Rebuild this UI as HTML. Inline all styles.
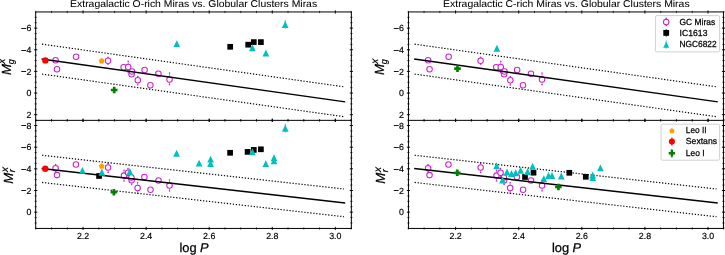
<!DOCTYPE html><html><head><meta charset="utf-8"><style>html,body{margin:0;padding:0;background:#fff;overflow:hidden}svg{display:block;will-change:transform}</style></head><body><svg width="725" height="255" viewBox="0 0 725 255">
<style>text{font-family:"Liberation Sans",sans-serif;fill:#000;stroke:#000;stroke-width:0.25px;text-rendering:geometricPrecision}.tk{font-size:8.8px;stroke-width:0.18px}.lg{font-size:8.8px}.tt{font-size:9.9px;stroke-width:0.05px}</style>
<rect width="725" height="255" fill="#fff"/>
<text x="70.1" y="6.85" class="tt" textLength="247.0" lengthAdjust="spacingAndGlyphs">Extragalactic O-rich Miras vs. Globular Clusters Miras</text>
<text x="443.1" y="6.85" class="tt" textLength="246.5" lengthAdjust="spacingAndGlyphs">Extragalactic C-rich Miras vs. Globular Clusters Miras</text>
<circle cx="55.60" cy="60.30" r="2.75" fill="#fff" stroke="#cc22d0" stroke-width="1.05"/>
<circle cx="428.14" cy="60.30" r="2.75" fill="#fff" stroke="#cc22d0" stroke-width="1.05"/>
<circle cx="57.00" cy="69.20" r="2.75" fill="#fff" stroke="#cc22d0" stroke-width="1.05"/>
<circle cx="429.54" cy="69.20" r="2.75" fill="#fff" stroke="#cc22d0" stroke-width="1.05"/>
<circle cx="76.10" cy="56.80" r="2.75" fill="#fff" stroke="#cc22d0" stroke-width="1.05"/>
<circle cx="448.64" cy="56.80" r="2.75" fill="#fff" stroke="#cc22d0" stroke-width="1.05"/>
<line x1="108.06" y1="57.30" x2="108.06" y2="64.20" stroke="#cc22d0" stroke-width="0.65"/><circle cx="108.06" cy="57.30" r="0.75" fill="#cc22d0"/><circle cx="108.06" cy="64.20" r="0.75" fill="#cc22d0"/><circle cx="108.06" cy="60.65" r="2.75" fill="#fff" stroke="#cc22d0" stroke-width="1.05"/>
<line x1="480.60" y1="57.30" x2="480.60" y2="64.20" stroke="#cc22d0" stroke-width="0.65"/><circle cx="480.60" cy="57.30" r="0.75" fill="#cc22d0"/><circle cx="480.60" cy="64.20" r="0.75" fill="#cc22d0"/><circle cx="480.60" cy="60.65" r="2.75" fill="#fff" stroke="#cc22d0" stroke-width="1.05"/>
<circle cx="123.65" cy="67.25" r="2.75" fill="#fff" stroke="#cc22d0" stroke-width="1.05"/>
<circle cx="496.19" cy="67.25" r="2.75" fill="#fff" stroke="#cc22d0" stroke-width="1.05"/>
<line x1="128.20" y1="61.30" x2="128.20" y2="72.70" stroke="#cc22d0" stroke-width="0.65"/><circle cx="128.20" cy="61.30" r="0.75" fill="#cc22d0"/><circle cx="128.20" cy="72.70" r="0.75" fill="#cc22d0"/><circle cx="128.20" cy="67.00" r="2.75" fill="#fff" stroke="#cc22d0" stroke-width="1.05"/>
<line x1="500.74" y1="61.30" x2="500.74" y2="72.70" stroke="#cc22d0" stroke-width="0.65"/><circle cx="500.74" cy="61.30" r="0.75" fill="#cc22d0"/><circle cx="500.74" cy="72.70" r="0.75" fill="#cc22d0"/><circle cx="500.74" cy="67.00" r="2.75" fill="#fff" stroke="#cc22d0" stroke-width="1.05"/>
<circle cx="131.60" cy="74.20" r="2.75" fill="#fff" stroke="#cc22d0" stroke-width="1.05"/>
<circle cx="504.14" cy="74.20" r="2.75" fill="#fff" stroke="#cc22d0" stroke-width="1.05"/>
<circle cx="132.00" cy="71.40" r="2.75" fill="#fff" stroke="#cc22d0" stroke-width="1.05"/>
<circle cx="504.54" cy="71.40" r="2.75" fill="#fff" stroke="#cc22d0" stroke-width="1.05"/>
<line x1="137.80" y1="76.40" x2="137.80" y2="85.00" stroke="#cc22d0" stroke-width="0.65"/><circle cx="137.80" cy="76.40" r="0.75" fill="#cc22d0"/><circle cx="137.80" cy="85.00" r="0.75" fill="#cc22d0"/><circle cx="137.80" cy="80.30" r="2.75" fill="#fff" stroke="#cc22d0" stroke-width="1.05"/>
<line x1="510.34" y1="76.40" x2="510.34" y2="85.00" stroke="#cc22d0" stroke-width="0.65"/><circle cx="510.34" cy="76.40" r="0.75" fill="#cc22d0"/><circle cx="510.34" cy="85.00" r="0.75" fill="#cc22d0"/><circle cx="510.34" cy="80.30" r="2.75" fill="#fff" stroke="#cc22d0" stroke-width="1.05"/>
<circle cx="144.60" cy="69.90" r="2.75" fill="#fff" stroke="#cc22d0" stroke-width="1.05"/>
<circle cx="517.14" cy="69.90" r="2.75" fill="#fff" stroke="#cc22d0" stroke-width="1.05"/>
<circle cx="150.40" cy="85.20" r="2.75" fill="#fff" stroke="#cc22d0" stroke-width="1.05"/>
<circle cx="522.94" cy="85.20" r="2.75" fill="#fff" stroke="#cc22d0" stroke-width="1.05"/>
<circle cx="158.40" cy="73.80" r="2.75" fill="#fff" stroke="#cc22d0" stroke-width="1.05"/>
<circle cx="530.94" cy="73.80" r="2.75" fill="#fff" stroke="#cc22d0" stroke-width="1.05"/>
<line x1="169.50" y1="72.90" x2="169.50" y2="84.80" stroke="#cc22d0" stroke-width="0.65"/><circle cx="169.50" cy="72.90" r="0.75" fill="#cc22d0"/><circle cx="169.50" cy="84.80" r="0.75" fill="#cc22d0"/><circle cx="169.50" cy="79.40" r="2.75" fill="#fff" stroke="#cc22d0" stroke-width="1.05"/>
<line x1="542.04" y1="72.90" x2="542.04" y2="84.80" stroke="#cc22d0" stroke-width="0.65"/><circle cx="542.04" cy="72.90" r="0.75" fill="#cc22d0"/><circle cx="542.04" cy="84.80" r="0.75" fill="#cc22d0"/><circle cx="542.04" cy="79.40" r="2.75" fill="#fff" stroke="#cc22d0" stroke-width="1.05"/>
<line x1="55.60" y1="164.50" x2="55.60" y2="171.90" stroke="#cc22d0" stroke-width="0.65"/><circle cx="55.60" cy="164.50" r="0.75" fill="#cc22d0"/><circle cx="55.60" cy="171.90" r="0.75" fill="#cc22d0"/><circle cx="55.60" cy="168.20" r="2.75" fill="#fff" stroke="#cc22d0" stroke-width="1.05"/>
<line x1="428.14" y1="164.50" x2="428.14" y2="171.90" stroke="#cc22d0" stroke-width="0.65"/><circle cx="428.14" cy="164.50" r="0.75" fill="#cc22d0"/><circle cx="428.14" cy="171.90" r="0.75" fill="#cc22d0"/><circle cx="428.14" cy="168.20" r="2.75" fill="#fff" stroke="#cc22d0" stroke-width="1.05"/>
<circle cx="57.00" cy="175.10" r="2.75" fill="#fff" stroke="#cc22d0" stroke-width="1.05"/>
<circle cx="429.54" cy="175.10" r="2.75" fill="#fff" stroke="#cc22d0" stroke-width="1.05"/>
<circle cx="75.90" cy="164.40" r="2.75" fill="#fff" stroke="#cc22d0" stroke-width="1.05"/>
<circle cx="448.44" cy="164.40" r="2.75" fill="#fff" stroke="#cc22d0" stroke-width="1.05"/>
<line x1="108.10" y1="163.30" x2="108.10" y2="172.60" stroke="#cc22d0" stroke-width="0.65"/><circle cx="108.10" cy="163.30" r="0.75" fill="#cc22d0"/><circle cx="108.10" cy="172.60" r="0.75" fill="#cc22d0"/><circle cx="108.10" cy="167.40" r="2.75" fill="#fff" stroke="#cc22d0" stroke-width="1.05"/>
<line x1="480.64" y1="163.30" x2="480.64" y2="172.60" stroke="#cc22d0" stroke-width="0.65"/><circle cx="480.64" cy="163.30" r="0.75" fill="#cc22d0"/><circle cx="480.64" cy="172.60" r="0.75" fill="#cc22d0"/><circle cx="480.64" cy="167.40" r="2.75" fill="#fff" stroke="#cc22d0" stroke-width="1.05"/>
<line x1="124.00" y1="170.30" x2="124.00" y2="180.90" stroke="#cc22d0" stroke-width="0.65"/><circle cx="124.00" cy="170.30" r="0.75" fill="#cc22d0"/><circle cx="124.00" cy="180.90" r="0.75" fill="#cc22d0"/><circle cx="124.00" cy="175.60" r="2.75" fill="#fff" stroke="#cc22d0" stroke-width="1.05"/>
<line x1="496.54" y1="170.30" x2="496.54" y2="180.90" stroke="#cc22d0" stroke-width="0.65"/><circle cx="496.54" cy="170.30" r="0.75" fill="#cc22d0"/><circle cx="496.54" cy="180.90" r="0.75" fill="#cc22d0"/><circle cx="496.54" cy="175.60" r="2.75" fill="#fff" stroke="#cc22d0" stroke-width="1.05"/>
<line x1="128.00" y1="168.40" x2="128.00" y2="177.20" stroke="#cc22d0" stroke-width="0.65"/><circle cx="128.00" cy="168.40" r="0.75" fill="#cc22d0"/><circle cx="128.00" cy="177.20" r="0.75" fill="#cc22d0"/><circle cx="128.00" cy="172.80" r="2.75" fill="#fff" stroke="#cc22d0" stroke-width="1.05"/>
<line x1="500.54" y1="168.40" x2="500.54" y2="177.20" stroke="#cc22d0" stroke-width="0.65"/><circle cx="500.54" cy="168.40" r="0.75" fill="#cc22d0"/><circle cx="500.54" cy="177.20" r="0.75" fill="#cc22d0"/><circle cx="500.54" cy="172.80" r="2.75" fill="#fff" stroke="#cc22d0" stroke-width="1.05"/>
<line x1="131.60" y1="176.00" x2="131.60" y2="184.40" stroke="#cc22d0" stroke-width="0.65"/><circle cx="131.60" cy="176.00" r="0.75" fill="#cc22d0"/><circle cx="131.60" cy="184.40" r="0.75" fill="#cc22d0"/><circle cx="131.60" cy="180.20" r="2.75" fill="#fff" stroke="#cc22d0" stroke-width="1.05"/>
<line x1="504.14" y1="176.00" x2="504.14" y2="184.40" stroke="#cc22d0" stroke-width="0.65"/><circle cx="504.14" cy="176.00" r="0.75" fill="#cc22d0"/><circle cx="504.14" cy="184.40" r="0.75" fill="#cc22d0"/><circle cx="504.14" cy="180.20" r="2.75" fill="#fff" stroke="#cc22d0" stroke-width="1.05"/>
<circle cx="131.40" cy="177.40" r="2.75" fill="#fff" stroke="#cc22d0" stroke-width="1.05"/>
<circle cx="503.94" cy="177.40" r="2.75" fill="#fff" stroke="#cc22d0" stroke-width="1.05"/>
<line x1="137.60" y1="182.50" x2="137.60" y2="193.40" stroke="#cc22d0" stroke-width="0.65"/><circle cx="137.60" cy="182.50" r="0.75" fill="#cc22d0"/><circle cx="137.60" cy="193.40" r="0.75" fill="#cc22d0"/><circle cx="137.60" cy="188.00" r="2.75" fill="#fff" stroke="#cc22d0" stroke-width="1.05"/>
<line x1="510.14" y1="182.50" x2="510.14" y2="193.40" stroke="#cc22d0" stroke-width="0.65"/><circle cx="510.14" cy="182.50" r="0.75" fill="#cc22d0"/><circle cx="510.14" cy="193.40" r="0.75" fill="#cc22d0"/><circle cx="510.14" cy="188.00" r="2.75" fill="#fff" stroke="#cc22d0" stroke-width="1.05"/>
<circle cx="144.40" cy="177.00" r="2.75" fill="#fff" stroke="#cc22d0" stroke-width="1.05"/>
<circle cx="516.94" cy="177.00" r="2.75" fill="#fff" stroke="#cc22d0" stroke-width="1.05"/>
<circle cx="150.50" cy="189.80" r="2.75" fill="#fff" stroke="#cc22d0" stroke-width="1.05"/>
<circle cx="523.04" cy="189.80" r="2.75" fill="#fff" stroke="#cc22d0" stroke-width="1.05"/>
<circle cx="158.50" cy="180.40" r="2.75" fill="#fff" stroke="#cc22d0" stroke-width="1.05"/>
<circle cx="531.04" cy="180.40" r="2.75" fill="#fff" stroke="#cc22d0" stroke-width="1.05"/>
<line x1="169.50" y1="179.90" x2="169.50" y2="191.00" stroke="#cc22d0" stroke-width="0.65"/><circle cx="169.50" cy="179.90" r="0.75" fill="#cc22d0"/><circle cx="169.50" cy="191.00" r="0.75" fill="#cc22d0"/><circle cx="169.50" cy="185.40" r="2.75" fill="#fff" stroke="#cc22d0" stroke-width="1.05"/>
<line x1="542.04" y1="179.90" x2="542.04" y2="191.00" stroke="#cc22d0" stroke-width="0.65"/><circle cx="542.04" cy="179.90" r="0.75" fill="#cc22d0"/><circle cx="542.04" cy="191.00" r="0.75" fill="#cc22d0"/><circle cx="542.04" cy="185.40" r="2.75" fill="#fff" stroke="#cc22d0" stroke-width="1.05"/>
<line x1="41.60" y1="59.00" x2="345.20" y2="101.87" stroke="#000" stroke-width="1.5"/>
<line x1="41.60" y1="44.10" x2="344.00" y2="86.80" stroke="#000" stroke-width="1.15" stroke-dasharray="1.3 1.7" stroke-dashoffset="-0.41"/>
<line x1="41.60" y1="74.00" x2="344.00" y2="116.70" stroke="#000" stroke-width="1.15" stroke-dasharray="1.3 1.7" stroke-dashoffset="-0.41"/>
<line x1="41.60" y1="168.50" x2="345.20" y2="202.98" stroke="#000" stroke-width="1.5"/>
<line x1="41.60" y1="155.20" x2="344.00" y2="189.04" stroke="#000" stroke-width="1.15" stroke-dasharray="1.3 1.7" stroke-dashoffset="-0.41"/>
<line x1="41.60" y1="182.40" x2="344.00" y2="216.74" stroke="#000" stroke-width="1.15" stroke-dasharray="1.3 1.7" stroke-dashoffset="-0.41"/>
<line x1="414.14" y1="59.00" x2="717.74" y2="101.87" stroke="#000" stroke-width="1.5"/>
<line x1="414.14" y1="44.10" x2="716.54" y2="86.80" stroke="#000" stroke-width="1.15" stroke-dasharray="1.3 1.7" stroke-dashoffset="-0.41"/>
<line x1="414.14" y1="74.00" x2="716.54" y2="116.70" stroke="#000" stroke-width="1.15" stroke-dasharray="1.3 1.7" stroke-dashoffset="-0.41"/>
<line x1="414.14" y1="168.50" x2="717.74" y2="202.98" stroke="#000" stroke-width="1.5"/>
<line x1="414.14" y1="155.20" x2="716.54" y2="189.04" stroke="#000" stroke-width="1.15" stroke-dasharray="1.3 1.7" stroke-dashoffset="-0.41"/>
<line x1="414.14" y1="182.40" x2="716.54" y2="216.74" stroke="#000" stroke-width="1.15" stroke-dasharray="1.3 1.7" stroke-dashoffset="-0.41"/>
<circle cx="45.40" cy="60.40" r="3.2" fill="#ff0000"/>
<polygon points="101.70,57.80 104.65,59.94 103.52,63.41 99.88,63.41 98.75,59.94" fill="#ffa000"/>
<polygon points="112.85,86.70 115.55,86.70 115.55,88.65 117.50,88.65 117.50,91.35 115.55,91.35 115.55,93.30 112.85,93.30 112.85,91.35 110.90,91.35 110.90,88.65 112.85,88.65" fill="#008000"/>
<rect x="227.35" y="43.95" width="5.7" height="5.7" fill="#000"/>
<rect x="245.35" y="41.85" width="5.7" height="5.7" fill="#000"/>
<rect x="250.95" y="39.25" width="5.7" height="5.7" fill="#000"/>
<rect x="258.05" y="39.25" width="5.7" height="5.7" fill="#000"/>
<polygon points="176.80,40.15 180.15,47.05 173.45,47.05" fill="#00bfbf"/>
<polygon points="252.40,44.35 255.75,51.25 249.05,51.25" fill="#00bfbf"/>
<polygon points="265.90,49.55 269.25,56.45 262.55,56.45" fill="#00bfbf"/>
<line x1="285.20" y1="20.20" x2="285.20" y2="28.80" stroke="#00bfbf" stroke-width="0.9"/>
<polygon points="285.20,21.05 288.55,27.95 281.85,27.95" fill="#00bfbf"/>
<circle cx="45.30" cy="168.80" r="3.2" fill="#ff0000"/>
<rect x="96.20" y="173.15" width="5.7" height="5.7" fill="#000"/>
<rect x="227.25" y="149.95" width="5.7" height="5.7" fill="#000"/>
<rect x="244.75" y="149.05" width="5.7" height="5.7" fill="#000"/>
<rect x="250.95" y="147.05" width="5.7" height="5.7" fill="#000"/>
<rect x="258.05" y="146.45" width="5.7" height="5.7" fill="#000"/>
<polygon points="82.40,166.95 85.75,173.85 79.05,173.85" fill="#00bfbf"/>
<polygon points="101.90,168.85 105.25,175.75 98.55,175.75" fill="#00bfbf"/>
<polygon points="129.80,168.05 133.15,174.95 126.45,174.95" fill="#00bfbf"/>
<polygon points="176.60,149.85 179.95,156.75 173.25,156.75" fill="#00bfbf"/>
<polygon points="199.10,159.65 202.45,166.55 195.75,166.55" fill="#00bfbf"/>
<polygon points="210.60,160.05 213.95,166.95 207.25,166.95" fill="#00bfbf"/>
<polygon points="210.60,155.65 213.95,162.55 207.25,162.55" fill="#00bfbf"/>
<polygon points="252.40,148.25 255.75,155.15 249.05,155.15" fill="#00bfbf"/>
<polygon points="265.80,160.15 269.15,167.05 262.45,167.05" fill="#00bfbf"/>
<polygon points="274.00,157.35 277.35,164.25 270.65,164.25" fill="#00bfbf"/>
<polygon points="274.00,154.25 277.35,161.15 270.65,161.15" fill="#00bfbf"/>
<line x1="285.30" y1="123.90" x2="285.30" y2="132.50" stroke="#00bfbf" stroke-width="0.9"/>
<polygon points="285.30,124.75 288.65,131.65 281.95,131.65" fill="#00bfbf"/>
<polygon points="101.70,163.20 104.65,165.34 103.52,168.81 99.88,168.81 98.75,165.34" fill="#ffa000"/>
<polygon points="112.55,188.90 115.25,188.90 115.25,190.85 117.20,190.85 117.20,193.55 115.25,193.55 115.25,195.50 112.55,195.50 112.55,193.55 110.60,193.55 110.60,190.85 112.55,190.85" fill="#008000"/>
<polygon points="496.90,44.85 500.25,51.75 493.55,51.75" fill="#00bfbf"/>
<polygon points="456.15,65.30 458.85,65.30 458.85,67.25 460.80,67.25 460.80,69.95 458.85,69.95 458.85,71.90 456.15,71.90 456.15,69.95 454.20,69.95 454.20,67.25 456.15,67.25" fill="#008000"/>
<rect x="522.15" y="174.15" width="5.7" height="5.7" fill="#000"/>
<rect x="530.65" y="169.85" width="5.7" height="5.7" fill="#000"/>
<rect x="566.45" y="169.95" width="5.7" height="5.7" fill="#000"/>
<rect x="582.95" y="173.95" width="5.7" height="5.7" fill="#000"/>
<polygon points="496.60,162.25 499.95,169.15 493.25,169.15" fill="#00bfbf"/>
<polygon points="502.50,176.55 505.85,183.45 499.15,183.45" fill="#00bfbf"/>
<polygon points="507.00,168.55 510.35,175.45 503.65,175.45" fill="#00bfbf"/>
<polygon points="511.50,170.05 514.85,176.95 508.15,176.95" fill="#00bfbf"/>
<polygon points="515.70,169.25 519.05,176.15 512.35,176.15" fill="#00bfbf"/>
<polygon points="520.60,166.85 523.95,173.75 517.25,173.75" fill="#00bfbf"/>
<polygon points="527.60,168.05 530.95,174.95 524.25,174.95" fill="#00bfbf"/>
<polygon points="532.60,162.85 535.95,169.75 529.25,169.75" fill="#00bfbf"/>
<polygon points="543.80,175.15 547.15,182.05 540.45,182.05" fill="#00bfbf"/>
<polygon points="548.50,172.05 551.85,178.95 545.15,178.95" fill="#00bfbf"/>
<polygon points="552.00,172.05 555.35,178.95 548.65,178.95" fill="#00bfbf"/>
<polygon points="561.30,172.55 564.65,179.45 557.95,179.45" fill="#00bfbf"/>
<polygon points="592.70,174.15 596.05,181.05 589.35,181.05" fill="#00bfbf"/>
<polygon points="592.70,171.55 596.05,178.45 589.35,178.45" fill="#00bfbf"/>
<polygon points="600.40,164.45 603.75,171.35 597.05,171.35" fill="#00bfbf"/>
<polygon points="455.95,169.50 458.65,169.50 458.65,171.45 460.60,171.45 460.60,174.15 458.65,174.15 458.65,176.10 455.95,176.10 455.95,174.15 454.00,174.15 454.00,171.45 455.95,171.45" fill="#008000"/>
<polygon points="557.05,183.70 559.75,183.70 559.75,185.65 561.70,185.65 561.70,188.35 559.75,188.35 559.75,190.30 557.05,190.30 557.05,188.35 555.10,188.35 555.10,185.65 557.05,185.65" fill="#008000"/>
<line x1="35.7" y1="11.5" x2="35.7" y2="120.8" stroke="#000" stroke-width="1.0"/><line x1="351.35" y1="11.5" x2="351.35" y2="120.8" stroke="#000" stroke-width="1.0"/><line x1="35.7" y1="11.95" x2="351.35" y2="11.95" stroke="#000" stroke-width="1.0"/>
<line x1="35.76" y1="10.85" x2="35.76" y2="13.05" stroke="#000" stroke-width="0.7"/><line x1="35.76" y1="119.25" x2="35.76" y2="121.45" stroke="#000" stroke-width="0.7"/><line x1="51.53" y1="10.85" x2="51.53" y2="13.05" stroke="#000" stroke-width="0.7"/><line x1="51.53" y1="119.25" x2="51.53" y2="121.45" stroke="#000" stroke-width="0.7"/><line x1="67.29" y1="10.85" x2="67.29" y2="13.05" stroke="#000" stroke-width="0.7"/><line x1="67.29" y1="119.25" x2="67.29" y2="121.45" stroke="#000" stroke-width="0.7"/><line x1="83.06" y1="10.35" x2="83.06" y2="13.55" stroke="#000" stroke-width="0.95"/><line x1="83.06" y1="118.75" x2="83.06" y2="121.95" stroke="#000" stroke-width="0.95"/><line x1="98.83" y1="10.85" x2="98.83" y2="13.05" stroke="#000" stroke-width="0.7"/><line x1="98.83" y1="119.25" x2="98.83" y2="121.45" stroke="#000" stroke-width="0.7"/><line x1="114.59" y1="10.85" x2="114.59" y2="13.05" stroke="#000" stroke-width="0.7"/><line x1="114.59" y1="119.25" x2="114.59" y2="121.45" stroke="#000" stroke-width="0.7"/><line x1="130.36" y1="10.85" x2="130.36" y2="13.05" stroke="#000" stroke-width="0.7"/><line x1="130.36" y1="119.25" x2="130.36" y2="121.45" stroke="#000" stroke-width="0.7"/><line x1="146.13" y1="10.35" x2="146.13" y2="13.55" stroke="#000" stroke-width="0.95"/><line x1="146.13" y1="118.75" x2="146.13" y2="121.95" stroke="#000" stroke-width="0.95"/><line x1="161.90" y1="10.85" x2="161.90" y2="13.05" stroke="#000" stroke-width="0.7"/><line x1="161.90" y1="119.25" x2="161.90" y2="121.45" stroke="#000" stroke-width="0.7"/><line x1="177.66" y1="10.85" x2="177.66" y2="13.05" stroke="#000" stroke-width="0.7"/><line x1="177.66" y1="119.25" x2="177.66" y2="121.45" stroke="#000" stroke-width="0.7"/><line x1="193.43" y1="10.85" x2="193.43" y2="13.05" stroke="#000" stroke-width="0.7"/><line x1="193.43" y1="119.25" x2="193.43" y2="121.45" stroke="#000" stroke-width="0.7"/><line x1="209.20" y1="10.35" x2="209.20" y2="13.55" stroke="#000" stroke-width="0.95"/><line x1="209.20" y1="118.75" x2="209.20" y2="121.95" stroke="#000" stroke-width="0.95"/><line x1="224.96" y1="10.85" x2="224.96" y2="13.05" stroke="#000" stroke-width="0.7"/><line x1="224.96" y1="119.25" x2="224.96" y2="121.45" stroke="#000" stroke-width="0.7"/><line x1="240.73" y1="10.85" x2="240.73" y2="13.05" stroke="#000" stroke-width="0.7"/><line x1="240.73" y1="119.25" x2="240.73" y2="121.45" stroke="#000" stroke-width="0.7"/><line x1="256.50" y1="10.85" x2="256.50" y2="13.05" stroke="#000" stroke-width="0.7"/><line x1="256.50" y1="119.25" x2="256.50" y2="121.45" stroke="#000" stroke-width="0.7"/><line x1="272.27" y1="10.35" x2="272.27" y2="13.55" stroke="#000" stroke-width="0.95"/><line x1="272.27" y1="118.75" x2="272.27" y2="121.95" stroke="#000" stroke-width="0.95"/><line x1="288.03" y1="10.85" x2="288.03" y2="13.05" stroke="#000" stroke-width="0.7"/><line x1="288.03" y1="119.25" x2="288.03" y2="121.45" stroke="#000" stroke-width="0.7"/><line x1="303.80" y1="10.85" x2="303.80" y2="13.05" stroke="#000" stroke-width="0.7"/><line x1="303.80" y1="119.25" x2="303.80" y2="121.45" stroke="#000" stroke-width="0.7"/><line x1="319.57" y1="10.85" x2="319.57" y2="13.05" stroke="#000" stroke-width="0.7"/><line x1="319.57" y1="119.25" x2="319.57" y2="121.45" stroke="#000" stroke-width="0.7"/><line x1="335.33" y1="10.35" x2="335.33" y2="13.55" stroke="#000" stroke-width="0.95"/><line x1="335.33" y1="118.75" x2="335.33" y2="121.95" stroke="#000" stroke-width="0.95"/><line x1="351.10" y1="10.85" x2="351.10" y2="13.05" stroke="#000" stroke-width="0.7"/><line x1="351.10" y1="119.25" x2="351.10" y2="121.45" stroke="#000" stroke-width="0.7"/><line x1="34.60" y1="17.31" x2="36.80" y2="17.31" stroke="#000" stroke-width="0.7"/><line x1="350.25" y1="17.31" x2="352.45" y2="17.31" stroke="#000" stroke-width="0.7"/><line x1="34.60" y1="22.72" x2="36.80" y2="22.72" stroke="#000" stroke-width="0.7"/><line x1="350.25" y1="22.72" x2="352.45" y2="22.72" stroke="#000" stroke-width="0.7"/><line x1="34.10" y1="28.13" x2="37.30" y2="28.13" stroke="#000" stroke-width="0.95"/><line x1="349.75" y1="28.13" x2="352.95" y2="28.13" stroke="#000" stroke-width="0.95"/><line x1="34.60" y1="33.54" x2="36.80" y2="33.54" stroke="#000" stroke-width="0.7"/><line x1="350.25" y1="33.54" x2="352.45" y2="33.54" stroke="#000" stroke-width="0.7"/><line x1="34.60" y1="38.95" x2="36.80" y2="38.95" stroke="#000" stroke-width="0.7"/><line x1="350.25" y1="38.95" x2="352.45" y2="38.95" stroke="#000" stroke-width="0.7"/><line x1="34.60" y1="44.36" x2="36.80" y2="44.36" stroke="#000" stroke-width="0.7"/><line x1="350.25" y1="44.36" x2="352.45" y2="44.36" stroke="#000" stroke-width="0.7"/><line x1="34.10" y1="49.77" x2="37.30" y2="49.77" stroke="#000" stroke-width="0.95"/><line x1="349.75" y1="49.77" x2="352.95" y2="49.77" stroke="#000" stroke-width="0.95"/><line x1="34.60" y1="55.18" x2="36.80" y2="55.18" stroke="#000" stroke-width="0.7"/><line x1="350.25" y1="55.18" x2="352.45" y2="55.18" stroke="#000" stroke-width="0.7"/><line x1="34.60" y1="60.59" x2="36.80" y2="60.59" stroke="#000" stroke-width="0.7"/><line x1="350.25" y1="60.59" x2="352.45" y2="60.59" stroke="#000" stroke-width="0.7"/><line x1="34.60" y1="66.00" x2="36.80" y2="66.00" stroke="#000" stroke-width="0.7"/><line x1="350.25" y1="66.00" x2="352.45" y2="66.00" stroke="#000" stroke-width="0.7"/><line x1="34.10" y1="71.41" x2="37.30" y2="71.41" stroke="#000" stroke-width="0.95"/><line x1="349.75" y1="71.41" x2="352.95" y2="71.41" stroke="#000" stroke-width="0.95"/><line x1="34.60" y1="76.82" x2="36.80" y2="76.82" stroke="#000" stroke-width="0.7"/><line x1="350.25" y1="76.82" x2="352.45" y2="76.82" stroke="#000" stroke-width="0.7"/><line x1="34.60" y1="82.23" x2="36.80" y2="82.23" stroke="#000" stroke-width="0.7"/><line x1="350.25" y1="82.23" x2="352.45" y2="82.23" stroke="#000" stroke-width="0.7"/><line x1="34.60" y1="87.64" x2="36.80" y2="87.64" stroke="#000" stroke-width="0.7"/><line x1="350.25" y1="87.64" x2="352.45" y2="87.64" stroke="#000" stroke-width="0.7"/><line x1="34.10" y1="93.05" x2="37.30" y2="93.05" stroke="#000" stroke-width="0.95"/><line x1="349.75" y1="93.05" x2="352.95" y2="93.05" stroke="#000" stroke-width="0.95"/><line x1="34.60" y1="98.46" x2="36.80" y2="98.46" stroke="#000" stroke-width="0.7"/><line x1="350.25" y1="98.46" x2="352.45" y2="98.46" stroke="#000" stroke-width="0.7"/><line x1="34.60" y1="103.87" x2="36.80" y2="103.87" stroke="#000" stroke-width="0.7"/><line x1="350.25" y1="103.87" x2="352.45" y2="103.87" stroke="#000" stroke-width="0.7"/><line x1="34.60" y1="109.28" x2="36.80" y2="109.28" stroke="#000" stroke-width="0.7"/><line x1="350.25" y1="109.28" x2="352.45" y2="109.28" stroke="#000" stroke-width="0.7"/><line x1="34.10" y1="114.69" x2="37.30" y2="114.69" stroke="#000" stroke-width="0.95"/><line x1="349.75" y1="114.69" x2="352.95" y2="114.69" stroke="#000" stroke-width="0.95"/>
<text transform="translate(31.46,31.28)" class="tk" text-anchor="end">6</text>
<line x1="21.26" y1="28.50" x2="26.16" y2="28.50" stroke="#000" stroke-width="0.9"/>
<text transform="translate(31.46,52.92)" class="tk" text-anchor="end">4</text>
<line x1="21.26" y1="50.50" x2="26.16" y2="50.50" stroke="#000" stroke-width="0.9"/>
<text transform="translate(31.46,74.56)" class="tk" text-anchor="end">2</text>
<line x1="21.26" y1="71.50" x2="26.16" y2="71.50" stroke="#000" stroke-width="0.9"/>
<text transform="translate(31.46,96.20)" class="tk" text-anchor="end">0</text>
<text transform="translate(31.46,117.84)" class="tk" text-anchor="end">2</text>
<line x1="35.7" y1="119.89999999999999" x2="35.7" y2="228.89999999999998" stroke="#000" stroke-width="1.0"/><line x1="351.35" y1="119.89999999999999" x2="351.35" y2="228.89999999999998" stroke="#000" stroke-width="1.0"/><line x1="35.7" y1="120.35" x2="351.35" y2="120.35" stroke="#000" stroke-width="1.0"/><line x1="35.7" y1="228.45" x2="351.35" y2="228.45" stroke="#000" stroke-width="1.0"/>
<line x1="35.76" y1="119.25" x2="35.76" y2="121.45" stroke="#000" stroke-width="0.7"/><line x1="35.76" y1="227.35" x2="35.76" y2="229.55" stroke="#000" stroke-width="0.7"/><line x1="51.53" y1="119.25" x2="51.53" y2="121.45" stroke="#000" stroke-width="0.7"/><line x1="51.53" y1="227.35" x2="51.53" y2="229.55" stroke="#000" stroke-width="0.7"/><line x1="67.29" y1="119.25" x2="67.29" y2="121.45" stroke="#000" stroke-width="0.7"/><line x1="67.29" y1="227.35" x2="67.29" y2="229.55" stroke="#000" stroke-width="0.7"/><line x1="83.06" y1="118.75" x2="83.06" y2="121.95" stroke="#000" stroke-width="0.95"/><line x1="83.06" y1="226.85" x2="83.06" y2="230.05" stroke="#000" stroke-width="0.95"/><line x1="98.83" y1="119.25" x2="98.83" y2="121.45" stroke="#000" stroke-width="0.7"/><line x1="98.83" y1="227.35" x2="98.83" y2="229.55" stroke="#000" stroke-width="0.7"/><line x1="114.59" y1="119.25" x2="114.59" y2="121.45" stroke="#000" stroke-width="0.7"/><line x1="114.59" y1="227.35" x2="114.59" y2="229.55" stroke="#000" stroke-width="0.7"/><line x1="130.36" y1="119.25" x2="130.36" y2="121.45" stroke="#000" stroke-width="0.7"/><line x1="130.36" y1="227.35" x2="130.36" y2="229.55" stroke="#000" stroke-width="0.7"/><line x1="146.13" y1="118.75" x2="146.13" y2="121.95" stroke="#000" stroke-width="0.95"/><line x1="146.13" y1="226.85" x2="146.13" y2="230.05" stroke="#000" stroke-width="0.95"/><line x1="161.90" y1="119.25" x2="161.90" y2="121.45" stroke="#000" stroke-width="0.7"/><line x1="161.90" y1="227.35" x2="161.90" y2="229.55" stroke="#000" stroke-width="0.7"/><line x1="177.66" y1="119.25" x2="177.66" y2="121.45" stroke="#000" stroke-width="0.7"/><line x1="177.66" y1="227.35" x2="177.66" y2="229.55" stroke="#000" stroke-width="0.7"/><line x1="193.43" y1="119.25" x2="193.43" y2="121.45" stroke="#000" stroke-width="0.7"/><line x1="193.43" y1="227.35" x2="193.43" y2="229.55" stroke="#000" stroke-width="0.7"/><line x1="209.20" y1="118.75" x2="209.20" y2="121.95" stroke="#000" stroke-width="0.95"/><line x1="209.20" y1="226.85" x2="209.20" y2="230.05" stroke="#000" stroke-width="0.95"/><line x1="224.96" y1="119.25" x2="224.96" y2="121.45" stroke="#000" stroke-width="0.7"/><line x1="224.96" y1="227.35" x2="224.96" y2="229.55" stroke="#000" stroke-width="0.7"/><line x1="240.73" y1="119.25" x2="240.73" y2="121.45" stroke="#000" stroke-width="0.7"/><line x1="240.73" y1="227.35" x2="240.73" y2="229.55" stroke="#000" stroke-width="0.7"/><line x1="256.50" y1="119.25" x2="256.50" y2="121.45" stroke="#000" stroke-width="0.7"/><line x1="256.50" y1="227.35" x2="256.50" y2="229.55" stroke="#000" stroke-width="0.7"/><line x1="272.27" y1="118.75" x2="272.27" y2="121.95" stroke="#000" stroke-width="0.95"/><line x1="272.27" y1="226.85" x2="272.27" y2="230.05" stroke="#000" stroke-width="0.95"/><line x1="288.03" y1="119.25" x2="288.03" y2="121.45" stroke="#000" stroke-width="0.7"/><line x1="288.03" y1="227.35" x2="288.03" y2="229.55" stroke="#000" stroke-width="0.7"/><line x1="303.80" y1="119.25" x2="303.80" y2="121.45" stroke="#000" stroke-width="0.7"/><line x1="303.80" y1="227.35" x2="303.80" y2="229.55" stroke="#000" stroke-width="0.7"/><line x1="319.57" y1="119.25" x2="319.57" y2="121.45" stroke="#000" stroke-width="0.7"/><line x1="319.57" y1="227.35" x2="319.57" y2="229.55" stroke="#000" stroke-width="0.7"/><line x1="335.33" y1="118.75" x2="335.33" y2="121.95" stroke="#000" stroke-width="0.95"/><line x1="335.33" y1="226.85" x2="335.33" y2="230.05" stroke="#000" stroke-width="0.95"/><line x1="351.10" y1="119.25" x2="351.10" y2="121.45" stroke="#000" stroke-width="0.7"/><line x1="351.10" y1="227.35" x2="351.10" y2="229.55" stroke="#000" stroke-width="0.7"/><line x1="34.10" y1="125.52" x2="37.30" y2="125.52" stroke="#000" stroke-width="0.95"/><line x1="349.75" y1="125.52" x2="352.95" y2="125.52" stroke="#000" stroke-width="0.95"/><line x1="34.60" y1="130.93" x2="36.80" y2="130.93" stroke="#000" stroke-width="0.7"/><line x1="350.25" y1="130.93" x2="352.45" y2="130.93" stroke="#000" stroke-width="0.7"/><line x1="34.60" y1="136.34" x2="36.80" y2="136.34" stroke="#000" stroke-width="0.7"/><line x1="350.25" y1="136.34" x2="352.45" y2="136.34" stroke="#000" stroke-width="0.7"/><line x1="34.60" y1="141.76" x2="36.80" y2="141.76" stroke="#000" stroke-width="0.7"/><line x1="350.25" y1="141.76" x2="352.45" y2="141.76" stroke="#000" stroke-width="0.7"/><line x1="34.10" y1="147.18" x2="37.30" y2="147.18" stroke="#000" stroke-width="0.95"/><line x1="349.75" y1="147.18" x2="352.95" y2="147.18" stroke="#000" stroke-width="0.95"/><line x1="34.60" y1="152.59" x2="36.80" y2="152.59" stroke="#000" stroke-width="0.7"/><line x1="350.25" y1="152.59" x2="352.45" y2="152.59" stroke="#000" stroke-width="0.7"/><line x1="34.60" y1="158.00" x2="36.80" y2="158.00" stroke="#000" stroke-width="0.7"/><line x1="350.25" y1="158.00" x2="352.45" y2="158.00" stroke="#000" stroke-width="0.7"/><line x1="34.60" y1="163.42" x2="36.80" y2="163.42" stroke="#000" stroke-width="0.7"/><line x1="350.25" y1="163.42" x2="352.45" y2="163.42" stroke="#000" stroke-width="0.7"/><line x1="34.10" y1="168.84" x2="37.30" y2="168.84" stroke="#000" stroke-width="0.95"/><line x1="349.75" y1="168.84" x2="352.95" y2="168.84" stroke="#000" stroke-width="0.95"/><line x1="34.60" y1="174.25" x2="36.80" y2="174.25" stroke="#000" stroke-width="0.7"/><line x1="350.25" y1="174.25" x2="352.45" y2="174.25" stroke="#000" stroke-width="0.7"/><line x1="34.60" y1="179.67" x2="36.80" y2="179.67" stroke="#000" stroke-width="0.7"/><line x1="350.25" y1="179.67" x2="352.45" y2="179.67" stroke="#000" stroke-width="0.7"/><line x1="34.60" y1="185.08" x2="36.80" y2="185.08" stroke="#000" stroke-width="0.7"/><line x1="350.25" y1="185.08" x2="352.45" y2="185.08" stroke="#000" stroke-width="0.7"/><line x1="34.10" y1="190.50" x2="37.30" y2="190.50" stroke="#000" stroke-width="0.95"/><line x1="349.75" y1="190.50" x2="352.95" y2="190.50" stroke="#000" stroke-width="0.95"/><line x1="34.60" y1="195.91" x2="36.80" y2="195.91" stroke="#000" stroke-width="0.7"/><line x1="350.25" y1="195.91" x2="352.45" y2="195.91" stroke="#000" stroke-width="0.7"/><line x1="34.60" y1="201.32" x2="36.80" y2="201.32" stroke="#000" stroke-width="0.7"/><line x1="350.25" y1="201.32" x2="352.45" y2="201.32" stroke="#000" stroke-width="0.7"/><line x1="34.60" y1="206.74" x2="36.80" y2="206.74" stroke="#000" stroke-width="0.7"/><line x1="350.25" y1="206.74" x2="352.45" y2="206.74" stroke="#000" stroke-width="0.7"/><line x1="34.10" y1="212.16" x2="37.30" y2="212.16" stroke="#000" stroke-width="0.95"/><line x1="349.75" y1="212.16" x2="352.95" y2="212.16" stroke="#000" stroke-width="0.95"/><line x1="34.60" y1="217.57" x2="36.80" y2="217.57" stroke="#000" stroke-width="0.7"/><line x1="350.25" y1="217.57" x2="352.45" y2="217.57" stroke="#000" stroke-width="0.7"/><line x1="34.60" y1="222.99" x2="36.80" y2="222.99" stroke="#000" stroke-width="0.7"/><line x1="350.25" y1="222.99" x2="352.45" y2="222.99" stroke="#000" stroke-width="0.7"/>
<text transform="translate(31.46,128.66)" class="tk" text-anchor="end">8</text>
<line x1="21.26" y1="125.50" x2="26.16" y2="125.50" stroke="#000" stroke-width="0.9"/>
<text transform="translate(31.46,150.33)" class="tk" text-anchor="end">6</text>
<line x1="21.26" y1="147.50" x2="26.16" y2="147.50" stroke="#000" stroke-width="0.9"/>
<text transform="translate(31.46,171.99)" class="tk" text-anchor="end">4</text>
<line x1="21.26" y1="169.50" x2="26.16" y2="169.50" stroke="#000" stroke-width="0.9"/>
<text transform="translate(31.46,193.65)" class="tk" text-anchor="end">2</text>
<line x1="21.26" y1="190.50" x2="26.16" y2="190.50" stroke="#000" stroke-width="0.9"/>
<text transform="translate(31.46,215.31)" class="tk" text-anchor="end">0</text>
<text transform="translate(83.06,238.65)" class="tk" text-anchor="middle">2.2</text>
<text transform="translate(146.13,238.65)" class="tk" text-anchor="middle">2.4</text>
<text transform="translate(209.20,238.65)" class="tk" text-anchor="middle">2.6</text>
<text transform="translate(272.27,238.65)" class="tk" text-anchor="middle">2.8</text>
<text transform="translate(335.33,238.65)" class="tk" text-anchor="middle">3.0</text>
<line x1="408.45" y1="11.5" x2="408.45" y2="120.8" stroke="#000" stroke-width="1.0"/><line x1="723.45" y1="11.5" x2="723.45" y2="120.8" stroke="#000" stroke-width="1.0"/><line x1="408.45" y1="11.95" x2="723.45" y2="11.95" stroke="#000" stroke-width="1.0"/>
<line x1="408.30" y1="10.85" x2="408.30" y2="13.05" stroke="#000" stroke-width="0.7"/><line x1="408.30" y1="119.25" x2="408.30" y2="121.45" stroke="#000" stroke-width="0.7"/><line x1="424.07" y1="10.85" x2="424.07" y2="13.05" stroke="#000" stroke-width="0.7"/><line x1="424.07" y1="119.25" x2="424.07" y2="121.45" stroke="#000" stroke-width="0.7"/><line x1="439.85" y1="10.85" x2="439.85" y2="13.05" stroke="#000" stroke-width="0.7"/><line x1="439.85" y1="119.25" x2="439.85" y2="121.45" stroke="#000" stroke-width="0.7"/><line x1="455.62" y1="10.35" x2="455.62" y2="13.55" stroke="#000" stroke-width="0.95"/><line x1="455.62" y1="118.75" x2="455.62" y2="121.95" stroke="#000" stroke-width="0.95"/><line x1="471.40" y1="10.85" x2="471.40" y2="13.05" stroke="#000" stroke-width="0.7"/><line x1="471.40" y1="119.25" x2="471.40" y2="121.45" stroke="#000" stroke-width="0.7"/><line x1="487.18" y1="10.85" x2="487.18" y2="13.05" stroke="#000" stroke-width="0.7"/><line x1="487.18" y1="119.25" x2="487.18" y2="121.45" stroke="#000" stroke-width="0.7"/><line x1="502.95" y1="10.85" x2="502.95" y2="13.05" stroke="#000" stroke-width="0.7"/><line x1="502.95" y1="119.25" x2="502.95" y2="121.45" stroke="#000" stroke-width="0.7"/><line x1="518.73" y1="10.35" x2="518.73" y2="13.55" stroke="#000" stroke-width="0.95"/><line x1="518.73" y1="118.75" x2="518.73" y2="121.95" stroke="#000" stroke-width="0.95"/><line x1="534.50" y1="10.85" x2="534.50" y2="13.05" stroke="#000" stroke-width="0.7"/><line x1="534.50" y1="119.25" x2="534.50" y2="121.45" stroke="#000" stroke-width="0.7"/><line x1="550.28" y1="10.85" x2="550.28" y2="13.05" stroke="#000" stroke-width="0.7"/><line x1="550.28" y1="119.25" x2="550.28" y2="121.45" stroke="#000" stroke-width="0.7"/><line x1="566.05" y1="10.85" x2="566.05" y2="13.05" stroke="#000" stroke-width="0.7"/><line x1="566.05" y1="119.25" x2="566.05" y2="121.45" stroke="#000" stroke-width="0.7"/><line x1="581.82" y1="10.35" x2="581.82" y2="13.55" stroke="#000" stroke-width="0.95"/><line x1="581.82" y1="118.75" x2="581.82" y2="121.95" stroke="#000" stroke-width="0.95"/><line x1="597.60" y1="10.85" x2="597.60" y2="13.05" stroke="#000" stroke-width="0.7"/><line x1="597.60" y1="119.25" x2="597.60" y2="121.45" stroke="#000" stroke-width="0.7"/><line x1="613.38" y1="10.85" x2="613.38" y2="13.05" stroke="#000" stroke-width="0.7"/><line x1="613.38" y1="119.25" x2="613.38" y2="121.45" stroke="#000" stroke-width="0.7"/><line x1="629.15" y1="10.85" x2="629.15" y2="13.05" stroke="#000" stroke-width="0.7"/><line x1="629.15" y1="119.25" x2="629.15" y2="121.45" stroke="#000" stroke-width="0.7"/><line x1="644.92" y1="10.35" x2="644.92" y2="13.55" stroke="#000" stroke-width="0.95"/><line x1="644.92" y1="118.75" x2="644.92" y2="121.95" stroke="#000" stroke-width="0.95"/><line x1="660.70" y1="10.85" x2="660.70" y2="13.05" stroke="#000" stroke-width="0.7"/><line x1="660.70" y1="119.25" x2="660.70" y2="121.45" stroke="#000" stroke-width="0.7"/><line x1="676.47" y1="10.85" x2="676.47" y2="13.05" stroke="#000" stroke-width="0.7"/><line x1="676.47" y1="119.25" x2="676.47" y2="121.45" stroke="#000" stroke-width="0.7"/><line x1="692.25" y1="10.85" x2="692.25" y2="13.05" stroke="#000" stroke-width="0.7"/><line x1="692.25" y1="119.25" x2="692.25" y2="121.45" stroke="#000" stroke-width="0.7"/><line x1="708.03" y1="10.35" x2="708.03" y2="13.55" stroke="#000" stroke-width="0.95"/><line x1="708.03" y1="118.75" x2="708.03" y2="121.95" stroke="#000" stroke-width="0.95"/><line x1="723.80" y1="10.85" x2="723.80" y2="13.05" stroke="#000" stroke-width="0.7"/><line x1="723.80" y1="119.25" x2="723.80" y2="121.45" stroke="#000" stroke-width="0.7"/><line x1="407.35" y1="17.31" x2="409.55" y2="17.31" stroke="#000" stroke-width="0.7"/><line x1="722.35" y1="17.31" x2="724.55" y2="17.31" stroke="#000" stroke-width="0.7"/><line x1="407.35" y1="22.72" x2="409.55" y2="22.72" stroke="#000" stroke-width="0.7"/><line x1="722.35" y1="22.72" x2="724.55" y2="22.72" stroke="#000" stroke-width="0.7"/><line x1="406.85" y1="28.13" x2="410.05" y2="28.13" stroke="#000" stroke-width="0.95"/><line x1="721.85" y1="28.13" x2="725.05" y2="28.13" stroke="#000" stroke-width="0.95"/><line x1="407.35" y1="33.54" x2="409.55" y2="33.54" stroke="#000" stroke-width="0.7"/><line x1="722.35" y1="33.54" x2="724.55" y2="33.54" stroke="#000" stroke-width="0.7"/><line x1="407.35" y1="38.95" x2="409.55" y2="38.95" stroke="#000" stroke-width="0.7"/><line x1="722.35" y1="38.95" x2="724.55" y2="38.95" stroke="#000" stroke-width="0.7"/><line x1="407.35" y1="44.36" x2="409.55" y2="44.36" stroke="#000" stroke-width="0.7"/><line x1="722.35" y1="44.36" x2="724.55" y2="44.36" stroke="#000" stroke-width="0.7"/><line x1="406.85" y1="49.77" x2="410.05" y2="49.77" stroke="#000" stroke-width="0.95"/><line x1="721.85" y1="49.77" x2="725.05" y2="49.77" stroke="#000" stroke-width="0.95"/><line x1="407.35" y1="55.18" x2="409.55" y2="55.18" stroke="#000" stroke-width="0.7"/><line x1="722.35" y1="55.18" x2="724.55" y2="55.18" stroke="#000" stroke-width="0.7"/><line x1="407.35" y1="60.59" x2="409.55" y2="60.59" stroke="#000" stroke-width="0.7"/><line x1="722.35" y1="60.59" x2="724.55" y2="60.59" stroke="#000" stroke-width="0.7"/><line x1="407.35" y1="66.00" x2="409.55" y2="66.00" stroke="#000" stroke-width="0.7"/><line x1="722.35" y1="66.00" x2="724.55" y2="66.00" stroke="#000" stroke-width="0.7"/><line x1="406.85" y1="71.41" x2="410.05" y2="71.41" stroke="#000" stroke-width="0.95"/><line x1="721.85" y1="71.41" x2="725.05" y2="71.41" stroke="#000" stroke-width="0.95"/><line x1="407.35" y1="76.82" x2="409.55" y2="76.82" stroke="#000" stroke-width="0.7"/><line x1="722.35" y1="76.82" x2="724.55" y2="76.82" stroke="#000" stroke-width="0.7"/><line x1="407.35" y1="82.23" x2="409.55" y2="82.23" stroke="#000" stroke-width="0.7"/><line x1="722.35" y1="82.23" x2="724.55" y2="82.23" stroke="#000" stroke-width="0.7"/><line x1="407.35" y1="87.64" x2="409.55" y2="87.64" stroke="#000" stroke-width="0.7"/><line x1="722.35" y1="87.64" x2="724.55" y2="87.64" stroke="#000" stroke-width="0.7"/><line x1="406.85" y1="93.05" x2="410.05" y2="93.05" stroke="#000" stroke-width="0.95"/><line x1="721.85" y1="93.05" x2="725.05" y2="93.05" stroke="#000" stroke-width="0.95"/><line x1="407.35" y1="98.46" x2="409.55" y2="98.46" stroke="#000" stroke-width="0.7"/><line x1="722.35" y1="98.46" x2="724.55" y2="98.46" stroke="#000" stroke-width="0.7"/><line x1="407.35" y1="103.87" x2="409.55" y2="103.87" stroke="#000" stroke-width="0.7"/><line x1="722.35" y1="103.87" x2="724.55" y2="103.87" stroke="#000" stroke-width="0.7"/><line x1="407.35" y1="109.28" x2="409.55" y2="109.28" stroke="#000" stroke-width="0.7"/><line x1="722.35" y1="109.28" x2="724.55" y2="109.28" stroke="#000" stroke-width="0.7"/><line x1="406.85" y1="114.69" x2="410.05" y2="114.69" stroke="#000" stroke-width="0.95"/><line x1="721.85" y1="114.69" x2="725.05" y2="114.69" stroke="#000" stroke-width="0.95"/>
<text transform="translate(404.00,31.28)" class="tk" text-anchor="end">6</text>
<line x1="393.80" y1="28.50" x2="398.70" y2="28.50" stroke="#000" stroke-width="0.9"/>
<text transform="translate(404.00,52.92)" class="tk" text-anchor="end">4</text>
<line x1="393.80" y1="50.50" x2="398.70" y2="50.50" stroke="#000" stroke-width="0.9"/>
<text transform="translate(404.00,74.56)" class="tk" text-anchor="end">2</text>
<line x1="393.80" y1="71.50" x2="398.70" y2="71.50" stroke="#000" stroke-width="0.9"/>
<text transform="translate(404.00,96.20)" class="tk" text-anchor="end">0</text>
<text transform="translate(404.00,117.84)" class="tk" text-anchor="end">2</text>
<line x1="408.45" y1="119.89999999999999" x2="408.45" y2="228.89999999999998" stroke="#000" stroke-width="1.0"/><line x1="723.45" y1="119.89999999999999" x2="723.45" y2="228.89999999999998" stroke="#000" stroke-width="1.0"/><line x1="408.45" y1="120.35" x2="723.45" y2="120.35" stroke="#000" stroke-width="1.0"/><line x1="408.45" y1="228.45" x2="723.45" y2="228.45" stroke="#000" stroke-width="1.0"/>
<line x1="408.30" y1="119.25" x2="408.30" y2="121.45" stroke="#000" stroke-width="0.7"/><line x1="408.30" y1="227.35" x2="408.30" y2="229.55" stroke="#000" stroke-width="0.7"/><line x1="424.07" y1="119.25" x2="424.07" y2="121.45" stroke="#000" stroke-width="0.7"/><line x1="424.07" y1="227.35" x2="424.07" y2="229.55" stroke="#000" stroke-width="0.7"/><line x1="439.85" y1="119.25" x2="439.85" y2="121.45" stroke="#000" stroke-width="0.7"/><line x1="439.85" y1="227.35" x2="439.85" y2="229.55" stroke="#000" stroke-width="0.7"/><line x1="455.62" y1="118.75" x2="455.62" y2="121.95" stroke="#000" stroke-width="0.95"/><line x1="455.62" y1="226.85" x2="455.62" y2="230.05" stroke="#000" stroke-width="0.95"/><line x1="471.40" y1="119.25" x2="471.40" y2="121.45" stroke="#000" stroke-width="0.7"/><line x1="471.40" y1="227.35" x2="471.40" y2="229.55" stroke="#000" stroke-width="0.7"/><line x1="487.18" y1="119.25" x2="487.18" y2="121.45" stroke="#000" stroke-width="0.7"/><line x1="487.18" y1="227.35" x2="487.18" y2="229.55" stroke="#000" stroke-width="0.7"/><line x1="502.95" y1="119.25" x2="502.95" y2="121.45" stroke="#000" stroke-width="0.7"/><line x1="502.95" y1="227.35" x2="502.95" y2="229.55" stroke="#000" stroke-width="0.7"/><line x1="518.73" y1="118.75" x2="518.73" y2="121.95" stroke="#000" stroke-width="0.95"/><line x1="518.73" y1="226.85" x2="518.73" y2="230.05" stroke="#000" stroke-width="0.95"/><line x1="534.50" y1="119.25" x2="534.50" y2="121.45" stroke="#000" stroke-width="0.7"/><line x1="534.50" y1="227.35" x2="534.50" y2="229.55" stroke="#000" stroke-width="0.7"/><line x1="550.28" y1="119.25" x2="550.28" y2="121.45" stroke="#000" stroke-width="0.7"/><line x1="550.28" y1="227.35" x2="550.28" y2="229.55" stroke="#000" stroke-width="0.7"/><line x1="566.05" y1="119.25" x2="566.05" y2="121.45" stroke="#000" stroke-width="0.7"/><line x1="566.05" y1="227.35" x2="566.05" y2="229.55" stroke="#000" stroke-width="0.7"/><line x1="581.82" y1="118.75" x2="581.82" y2="121.95" stroke="#000" stroke-width="0.95"/><line x1="581.82" y1="226.85" x2="581.82" y2="230.05" stroke="#000" stroke-width="0.95"/><line x1="597.60" y1="119.25" x2="597.60" y2="121.45" stroke="#000" stroke-width="0.7"/><line x1="597.60" y1="227.35" x2="597.60" y2="229.55" stroke="#000" stroke-width="0.7"/><line x1="613.38" y1="119.25" x2="613.38" y2="121.45" stroke="#000" stroke-width="0.7"/><line x1="613.38" y1="227.35" x2="613.38" y2="229.55" stroke="#000" stroke-width="0.7"/><line x1="629.15" y1="119.25" x2="629.15" y2="121.45" stroke="#000" stroke-width="0.7"/><line x1="629.15" y1="227.35" x2="629.15" y2="229.55" stroke="#000" stroke-width="0.7"/><line x1="644.92" y1="118.75" x2="644.92" y2="121.95" stroke="#000" stroke-width="0.95"/><line x1="644.92" y1="226.85" x2="644.92" y2="230.05" stroke="#000" stroke-width="0.95"/><line x1="660.70" y1="119.25" x2="660.70" y2="121.45" stroke="#000" stroke-width="0.7"/><line x1="660.70" y1="227.35" x2="660.70" y2="229.55" stroke="#000" stroke-width="0.7"/><line x1="676.47" y1="119.25" x2="676.47" y2="121.45" stroke="#000" stroke-width="0.7"/><line x1="676.47" y1="227.35" x2="676.47" y2="229.55" stroke="#000" stroke-width="0.7"/><line x1="692.25" y1="119.25" x2="692.25" y2="121.45" stroke="#000" stroke-width="0.7"/><line x1="692.25" y1="227.35" x2="692.25" y2="229.55" stroke="#000" stroke-width="0.7"/><line x1="708.03" y1="118.75" x2="708.03" y2="121.95" stroke="#000" stroke-width="0.95"/><line x1="708.03" y1="226.85" x2="708.03" y2="230.05" stroke="#000" stroke-width="0.95"/><line x1="723.80" y1="119.25" x2="723.80" y2="121.45" stroke="#000" stroke-width="0.7"/><line x1="723.80" y1="227.35" x2="723.80" y2="229.55" stroke="#000" stroke-width="0.7"/><line x1="406.85" y1="125.52" x2="410.05" y2="125.52" stroke="#000" stroke-width="0.95"/><line x1="721.85" y1="125.52" x2="725.05" y2="125.52" stroke="#000" stroke-width="0.95"/><line x1="407.35" y1="130.93" x2="409.55" y2="130.93" stroke="#000" stroke-width="0.7"/><line x1="722.35" y1="130.93" x2="724.55" y2="130.93" stroke="#000" stroke-width="0.7"/><line x1="407.35" y1="136.34" x2="409.55" y2="136.34" stroke="#000" stroke-width="0.7"/><line x1="722.35" y1="136.34" x2="724.55" y2="136.34" stroke="#000" stroke-width="0.7"/><line x1="407.35" y1="141.76" x2="409.55" y2="141.76" stroke="#000" stroke-width="0.7"/><line x1="722.35" y1="141.76" x2="724.55" y2="141.76" stroke="#000" stroke-width="0.7"/><line x1="406.85" y1="147.18" x2="410.05" y2="147.18" stroke="#000" stroke-width="0.95"/><line x1="721.85" y1="147.18" x2="725.05" y2="147.18" stroke="#000" stroke-width="0.95"/><line x1="407.35" y1="152.59" x2="409.55" y2="152.59" stroke="#000" stroke-width="0.7"/><line x1="722.35" y1="152.59" x2="724.55" y2="152.59" stroke="#000" stroke-width="0.7"/><line x1="407.35" y1="158.00" x2="409.55" y2="158.00" stroke="#000" stroke-width="0.7"/><line x1="722.35" y1="158.00" x2="724.55" y2="158.00" stroke="#000" stroke-width="0.7"/><line x1="407.35" y1="163.42" x2="409.55" y2="163.42" stroke="#000" stroke-width="0.7"/><line x1="722.35" y1="163.42" x2="724.55" y2="163.42" stroke="#000" stroke-width="0.7"/><line x1="406.85" y1="168.84" x2="410.05" y2="168.84" stroke="#000" stroke-width="0.95"/><line x1="721.85" y1="168.84" x2="725.05" y2="168.84" stroke="#000" stroke-width="0.95"/><line x1="407.35" y1="174.25" x2="409.55" y2="174.25" stroke="#000" stroke-width="0.7"/><line x1="722.35" y1="174.25" x2="724.55" y2="174.25" stroke="#000" stroke-width="0.7"/><line x1="407.35" y1="179.67" x2="409.55" y2="179.67" stroke="#000" stroke-width="0.7"/><line x1="722.35" y1="179.67" x2="724.55" y2="179.67" stroke="#000" stroke-width="0.7"/><line x1="407.35" y1="185.08" x2="409.55" y2="185.08" stroke="#000" stroke-width="0.7"/><line x1="722.35" y1="185.08" x2="724.55" y2="185.08" stroke="#000" stroke-width="0.7"/><line x1="406.85" y1="190.50" x2="410.05" y2="190.50" stroke="#000" stroke-width="0.95"/><line x1="721.85" y1="190.50" x2="725.05" y2="190.50" stroke="#000" stroke-width="0.95"/><line x1="407.35" y1="195.91" x2="409.55" y2="195.91" stroke="#000" stroke-width="0.7"/><line x1="722.35" y1="195.91" x2="724.55" y2="195.91" stroke="#000" stroke-width="0.7"/><line x1="407.35" y1="201.32" x2="409.55" y2="201.32" stroke="#000" stroke-width="0.7"/><line x1="722.35" y1="201.32" x2="724.55" y2="201.32" stroke="#000" stroke-width="0.7"/><line x1="407.35" y1="206.74" x2="409.55" y2="206.74" stroke="#000" stroke-width="0.7"/><line x1="722.35" y1="206.74" x2="724.55" y2="206.74" stroke="#000" stroke-width="0.7"/><line x1="406.85" y1="212.16" x2="410.05" y2="212.16" stroke="#000" stroke-width="0.95"/><line x1="721.85" y1="212.16" x2="725.05" y2="212.16" stroke="#000" stroke-width="0.95"/><line x1="407.35" y1="217.57" x2="409.55" y2="217.57" stroke="#000" stroke-width="0.7"/><line x1="722.35" y1="217.57" x2="724.55" y2="217.57" stroke="#000" stroke-width="0.7"/><line x1="407.35" y1="222.99" x2="409.55" y2="222.99" stroke="#000" stroke-width="0.7"/><line x1="722.35" y1="222.99" x2="724.55" y2="222.99" stroke="#000" stroke-width="0.7"/>
<text transform="translate(404.00,128.66)" class="tk" text-anchor="end">8</text>
<line x1="393.80" y1="125.50" x2="398.70" y2="125.50" stroke="#000" stroke-width="0.9"/>
<text transform="translate(404.00,150.33)" class="tk" text-anchor="end">6</text>
<line x1="393.80" y1="147.50" x2="398.70" y2="147.50" stroke="#000" stroke-width="0.9"/>
<text transform="translate(404.00,171.99)" class="tk" text-anchor="end">4</text>
<line x1="393.80" y1="169.50" x2="398.70" y2="169.50" stroke="#000" stroke-width="0.9"/>
<text transform="translate(404.00,193.65)" class="tk" text-anchor="end">2</text>
<line x1="393.80" y1="190.50" x2="398.70" y2="190.50" stroke="#000" stroke-width="0.9"/>
<text transform="translate(404.00,215.31)" class="tk" text-anchor="end">0</text>
<text transform="translate(455.63,238.65)" class="tk" text-anchor="middle">2.2</text>
<text transform="translate(518.73,238.65)" class="tk" text-anchor="middle">2.4</text>
<text transform="translate(581.83,238.65)" class="tk" text-anchor="middle">2.6</text>
<text transform="translate(644.92,238.65)" class="tk" text-anchor="middle">2.8</text>
<text transform="translate(708.03,238.65)" class="tk" text-anchor="middle">3.0</text>
<g transform="translate(11.30,66.00) rotate(-90)" font-style="italic"><text x="-9.0" y="0" style="font-size:13.2px">M</text><text x="1.8" y="2.8" style="font-size:9.0px">g</text><text x="1.9" y="-6.1" style="font-size:7.8px">X</text></g>
<g transform="translate(12.70,174.80) rotate(-90)" font-style="italic"><text x="-9.0" y="0" style="font-size:13.2px">M</text><text x="2.6" y="2.5" style="font-size:9.0px">r</text><text x="2.5" y="-4.7" style="font-size:7.8px">X</text></g>
<g transform="translate(383.80,66.00) rotate(-90)" font-style="italic"><text x="-9.0" y="0" style="font-size:13.2px">M</text><text x="1.8" y="2.8" style="font-size:9.0px">g</text><text x="1.9" y="-6.1" style="font-size:7.8px">X</text></g>
<g transform="translate(385.20,174.80) rotate(-90)" font-style="italic"><text x="-9.0" y="0" style="font-size:13.2px">M</text><text x="2.6" y="2.5" style="font-size:9.0px">r</text><text x="2.5" y="-4.7" style="font-size:7.8px">X</text></g>
<text x="179.40" y="252.3" style="font-size:12.8px" textLength="17.2" lengthAdjust="spacingAndGlyphs">log</text>
<text x="199.90" y="252.3" style="font-size:12.8px;font-style:italic">P</text>
<text x="552.00" y="252.3" style="font-size:12.8px" textLength="17.2" lengthAdjust="spacingAndGlyphs">log</text>
<text x="572.50" y="252.3" style="font-size:12.8px;font-style:italic">P</text>
<rect x="655.40" y="15.60" width="64.20" height="36.30" rx="1.6" fill="#fff" fill-opacity="0.8" stroke="#cccccc" stroke-width="0.9"/>
<line x1="666.20" y1="18.30" x2="666.20" y2="25.50" stroke="#cc22d0" stroke-width="0.65"/><circle cx="666.20" cy="18.30" r="0.75" fill="#cc22d0"/><circle cx="666.20" cy="25.50" r="0.75" fill="#cc22d0"/><circle cx="666.20" cy="21.90" r="2.75" fill="#fff" stroke="#cc22d0" stroke-width="1.05"/>
<text x="679.55" y="24.70" class="lg" textLength="35.60" lengthAdjust="spacingAndGlyphs">GC Miras</text>
<line x1="666.1999999999999" y1="29.0" x2="666.1999999999999" y2="36.8" stroke="#000" stroke-width="0.8"/>
<rect x="663.30" y="30.00" width="5.8" height="5.8" fill="#000"/>
<text x="679.55" y="35.70" class="lg" textLength="27.90" lengthAdjust="spacingAndGlyphs">IC1613</text>
<line x1="666.1999999999999" y1="40.4" x2="666.1999999999999" y2="48.699999999999996" stroke="#00bfbf" stroke-width="0.8"/>
<polygon points="666.20,41.80 669.20,47.80 663.20,47.80" fill="#00bfbf"/>
<text x="679.55" y="46.50" class="lg" textLength="37.00" lengthAdjust="spacingAndGlyphs">NGC6822</text>
<rect x="661.10" y="124.20" width="58.50" height="36.00" rx="1.6" fill="#fff" fill-opacity="0.8" stroke="#cccccc" stroke-width="0.9"/>
<polygon points="671.90,128.10 674.56,130.03 673.55,133.17 670.25,133.17 669.24,130.03" fill="#ffa000"/>
<text x="685.85" y="133.30" class="lg" textLength="20.80" lengthAdjust="spacingAndGlyphs">Leo II</text>
<line x1="671.9" y1="137.5" x2="671.9" y2="145.7" stroke="#ff0000" stroke-width="1.0"/>
<circle cx="671.90" cy="141.60" r="3.05" fill="#ff0000"/>
<text x="685.85" y="144.30" class="lg" textLength="31.20" lengthAdjust="spacingAndGlyphs">Sextans</text>
<line x1="671.9" y1="148.9" x2="671.9" y2="157.70000000000002" stroke="#008000" stroke-width="1.0"/>
<polygon points="670.70,150.10 673.10,150.10 673.10,152.10 675.10,152.10 675.10,154.50 673.10,154.50 673.10,156.50 670.70,156.50 670.70,154.50 668.70,154.50 668.70,152.10 670.70,152.10" fill="#008000"/>
<text x="685.85" y="155.50" class="lg" textLength="18.80" lengthAdjust="spacingAndGlyphs">Leo I</text>
</svg></body></html>
